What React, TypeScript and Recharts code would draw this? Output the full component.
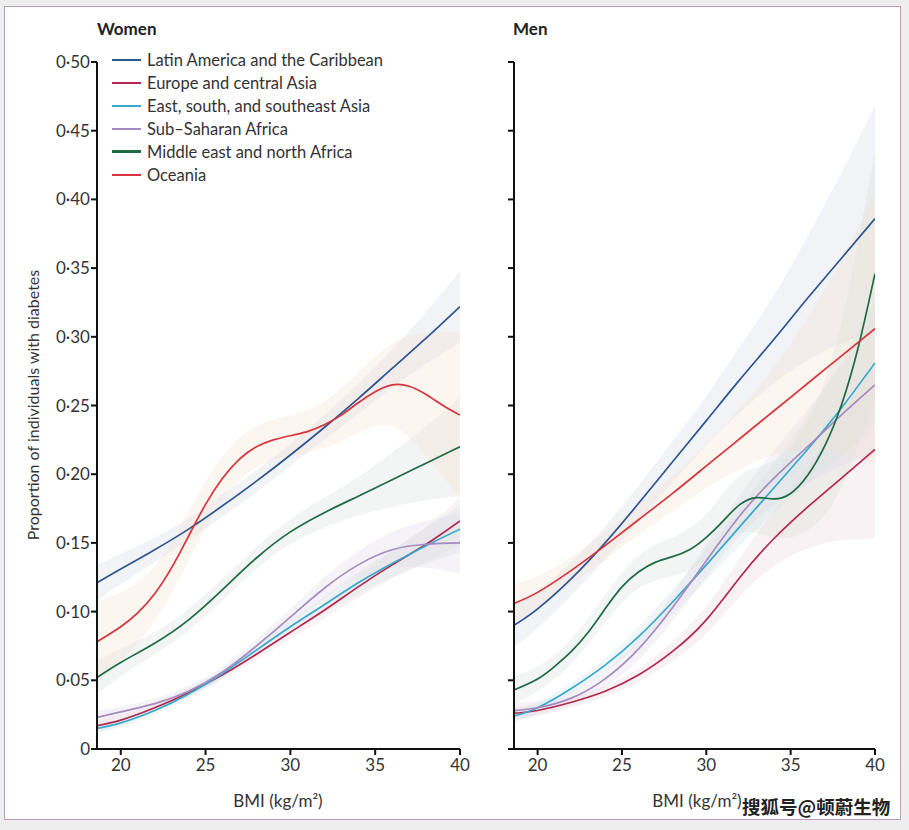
import { Area, ComposedChart, Legend, Line, XAxis, YAxis } from "recharts";

// BMI grid used by the smooth curves, and a finer one for the wiggly ones
const bmi = [18.6, 20, 22, 24, 26, 28, 30, 32, 34, 36, 38, 40];
const bmiFine = [18.6, 20, 21, 22, 23, 24, 25, 26, 27, 28, 29, 30, 31, 32, 33, 34, 35, 36, 37, 38, 39, 40];

const xTicks = [20, 25, 30, 35, 40];
const yTicks = [0, 0.05, 0.1, 0.15, 0.2, 0.25, 0.3, 0.35, 0.4, 0.45, 0.5];

const regions = [
  "Latin America and the Caribbean",
  "Europe and central Asia",
  "East, south, and southeast Asia",
  "Sub–Saharan Africa",
  "Middle east and north Africa",
  "Oceania",
];
const colors = ["#2d5590", "#b3264f", "#35a9cc", "#a68bc0", "#1d6b42", "#d6333a"];
const bandFills = ["#cfd6e4", "#ead3db", "#d2e3e9", "#ddd8e6", "#d4ddd7", "#f6e2d2"];

// Women
const latinW = [0.121, 0.131, 0.145, 0.160, 0.177, 0.195, 0.214, 0.234, 0.255, 0.277, 0.299, 0.322];
const europeW = [0.017, 0.021, 0.030, 0.041, 0.054, 0.069, 0.085, 0.101, 0.118, 0.134, 0.149, 0.166];
const eastW = [0.015, 0.019, 0.028, 0.040, 0.055, 0.072, 0.089, 0.105, 0.121, 0.135, 0.148, 0.160];
const subW = [0.023, 0.027, 0.033, 0.042, 0.056, 0.075, 0.096, 0.117, 0.134, 0.145, 0.149, 0.150];
const middleW = [0.052, 0.063, 0.077, 0.094, 0.116, 0.139, 0.158, 0.172, 0.184, 0.196, 0.208, 0.220];
const oceaniaW = [
  0.078, 0.089, 0.099, 0.113, 0.132, 0.155, 0.178, 0.197, 0.211, 0.220, 0.225,
  0.228, 0.231, 0.236, 0.243, 0.252, 0.260, 0.265, 0.264, 0.258, 0.250, 0.243,
];

// Men
const latinM = [0.090, 0.102, 0.124, 0.150, 0.179, 0.209, 0.239, 0.269, 0.298, 0.328, 0.357, 0.386];
const europeM = [0.026, 0.028, 0.034, 0.042, 0.054, 0.071, 0.094, 0.125, 0.153, 0.176, 0.197, 0.218];
const eastM = [0.024, 0.030, 0.044, 0.061, 0.082, 0.107, 0.134, 0.162, 0.190, 0.218, 0.248, 0.281];
const subM = [0.028, 0.030, 0.037, 0.051, 0.073, 0.103, 0.137, 0.170, 0.197, 0.220, 0.243, 0.265];
const middleM = [
  0.043, 0.051, 0.060, 0.071, 0.085, 0.102, 0.118, 0.129, 0.136, 0.140, 0.145,
  0.154, 0.166, 0.178, 0.183, 0.182, 0.186, 0.199, 0.220, 0.250, 0.292, 0.346,
];
const oceaniaM = [0.106, 0.114, 0.130, 0.148, 0.167, 0.186, 0.206, 0.226, 0.246, 0.266, 0.286, 0.306];

// half widths of the confidence bands, on the bmi grid
const latinWBand = [0.013, 0.011, 0.009, 0.008, 0.008, 0.008, 0.008, 0.009, 0.011, 0.014, 0.019, 0.026];
const europeWBand = [0.004, 0.004, 0.003, 0.003, 0.003, 0.004, 0.005, 0.006, 0.008, 0.010, 0.013, 0.017];
const eastWBand = [0.004, 0.003, 0.003, 0.003, 0.003, 0.004, 0.005, 0.006, 0.008, 0.010, 0.013, 0.017];
const subWBand = [0.005, 0.004, 0.004, 0.004, 0.004, 0.005, 0.006, 0.008, 0.010, 0.013, 0.017, 0.022];
const middleWBand = [0.012, 0.010, 0.008, 0.008, 0.008, 0.008, 0.009, 0.011, 0.014, 0.020, 0.027, 0.036];
const oceaniaWBand = [0.030, 0.025, 0.020, 0.018, 0.016, 0.015, 0.015, 0.017, 0.022, 0.030, 0.045, 0.060];

const latinMBand = [0.016, 0.014, 0.012, 0.012, 0.013, 0.015, 0.018, 0.024, 0.032, 0.045, 0.062, 0.082];
const europeMBand = [0.005, 0.004, 0.004, 0.004, 0.005, 0.007, 0.010, 0.014, 0.020, 0.030, 0.045, 0.065];
const eastMBand = [0.005, 0.004, 0.004, 0.005, 0.007, 0.009, 0.011, 0.014, 0.018, 0.025, 0.035, 0.045];
const subMBand = [0.006, 0.005, 0.005, 0.006, 0.008, 0.010, 0.012, 0.015, 0.020, 0.027, 0.037, 0.050];
const middleMBand = [0.010, 0.009, 0.009, 0.010, 0.012, 0.014, 0.017, 0.021, 0.028, 0.040, 0.060, 0.090];
const oceaniaMBand = [0.014, 0.012, 0.010, 0.010, 0.011, 0.013, 0.016, 0.022, 0.032, 0.048, 0.070, 0.100];

type Series = { xs: number[]; ys: number[]; half: number[] };

const womenSeries: Series[] = [
  { xs: bmi, ys: latinW, half: latinWBand },
  { xs: bmi, ys: europeW, half: europeWBand },
  { xs: bmi, ys: eastW, half: eastWBand },
  { xs: bmi, ys: subW, half: subWBand },
  { xs: bmi, ys: middleW, half: middleWBand },
  { xs: bmiFine, ys: oceaniaW, half: oceaniaWBand },
];

const menSeries: Series[] = [
  { xs: bmi, ys: latinM, half: latinMBand },
  { xs: bmi, ys: europeM, half: europeMBand },
  { xs: bmi, ys: eastM, half: eastMBand },
  { xs: bmi, ys: subM, half: subMBand },
  { xs: bmiFine, ys: middleM, half: middleMBand },
  { xs: bmi, ys: oceaniaM, half: oceaniaMBand },
];

const lineRows = (s: Series) => s.xs.map((x, i) => ({ x, y: s.ys[i] }));

const bandRows = (s: Series) =>
  bmi.map((x, i) => {
    const c = s.ys[s.xs.indexOf(x)];
    return { x, range: [c - s.half[i], c + s.half[i]] };
  });

const fmtY = (v: number) => (v === 0 ? "0" : v.toFixed(2).replace(".", "·"));

const font = "Lato, 'Open Sans', sans-serif";
const tickStyle = { fill: "#333", fontSize: 17, fontFamily: font };

function LegendBox() {
  return (
    <div style={{ fontFamily: font, fontSize: 16.5, color: "#333" }}>
      {regions.map((r, i) => (
        <div key={r} style={{ display: "flex", alignItems: "center", height: 23 }}>
          <span
            style={{
              display: "inline-block",
              width: 29,
              height: i === 4 ? 3 : 2,
              background: colors[i],
              marginRight: 6,
            }}
          />
          {r}
        </div>
      ))}
    </div>
  );
}

function Panel({
  series,
  showLabels,
  showLegend,
  marginLeft,
  marginRight,
  width,
}: {
  series: Series[];
  showLabels: boolean;
  showLegend: boolean;
  marginLeft: number;
  marginRight: number;
  width: number;
}) {
  return (
    <ComposedChart
      width={width}
      height={830}
      margin={{ top: 62, right: marginRight, bottom: 51, left: marginLeft }}
    >
      <XAxis
        dataKey="x"
        type="number"
        domain={[18.6, 40]}
        ticks={xTicks}
        allowDataOverflow
        height={30}
        axisLine={{ stroke: "#111", strokeWidth: 2 }}
        tickLine={{ stroke: "#111", strokeWidth: 2 }}
        tickSize={6}
        tickMargin={4}
        tick={tickStyle}
      />
      <YAxis
        type="number"
        domain={[0, 0.5]}
        ticks={yTicks}
        allowDataOverflow
        width={60}
        axisLine={{ stroke: "#111", strokeWidth: 2 }}
        tickLine={{ stroke: "#111", strokeWidth: 2 }}
        tickSize={6}
        tickMargin={1}
        tick={tickStyle}
        tickFormatter={showLabels ? fmtY : () => ""}
      />
      {series.map((s, i) => (
        <Area
          key={"band" + i}
          data={bandRows(s)}
          dataKey="range"
          type="natural"
          stroke="none"
          fill={bandFills[i]}
          fillOpacity={0.3}
          isAnimationActive={false}
        />
      ))}
      {series.map((s, i) => (
        <Line
          key={"line" + i}
          data={lineRows(s)}
          dataKey="y"
          name={regions[i]}
          type="natural"
          stroke={colors[i]}
          strokeWidth={1.7}
          dot={false}
          isAnimationActive={false}
        />
      ))}
      {showLegend && (
        <Legend
          layout="vertical"
          align="center"
          verticalAlign="middle"
          content={() => <LegendBox />}
          wrapperStyle={{ top: 48, left: 112, width: 320 }}
        />
      )}
    </ComposedChart>
  );
}

export default function App() {
  const text = { position: "absolute" as const, fontFamily: font, color: "#333", whiteSpace: "nowrap" as const };
  return (
    <div style={{ position: "absolute", left: 0, top: 0, width: 909, height: 830, background: "#eeeeee" }}>
      <div
        style={{
          position: "absolute",
          left: 4,
          top: 6,
          width: 895,
          height: 812,
          border: "1.5px solid #c49ab2",
          background: "#fff",
        }}
      />
      <div style={{ position: "absolute", left: 0, top: 0 }}>
        <Panel series={womenSeries} showLabels showLegend marginLeft={37} marginRight={20} width={480} />
      </div>
      <div style={{ position: "absolute", left: 440, top: 0 }}>
        <Panel series={menSeries} showLabels={false} showLegend={false} marginLeft={14} marginRight={25} width={460} />
      </div>
      <div style={{ ...text, left: 97, top: 18, fontSize: 17, fontWeight: 700, color: "#222" }}>Women</div>
      <div style={{ ...text, left: 513, top: 18, fontSize: 17, fontWeight: 700, color: "#222" }}>Men</div>
      <div
        style={{
          ...text,
          left: 32,
          top: 405,
          fontSize: 16,
          transform: "translate(-50%, -50%) rotate(-90deg)",
        }}
      >
        Proportion of individuals with diabetes
      </div>
      <div style={{ ...text, left: 278, top: 800, fontSize: 17, transform: "translate(-50%, -50%)" }}>
        BMI (kg/m²)
      </div>
      <div style={{ ...text, left: 697, top: 800, fontSize: 17, transform: "translate(-50%, -50%)" }}>
        BMI (kg/m²)
      </div>
      <div
        style={{
          ...text,
          left: 742,
          top: 793,
          fontSize: 18.5,
          fontWeight: 700,
          fontFamily: "'Noto Sans CJK SC', sans-serif",
          color: "#222",
          textShadow: "0 0 2px #fff, 0 0 2px #fff",
        }}
      >
        搜狐号@顿蔚生物
      </div>
    </div>
  );
}
